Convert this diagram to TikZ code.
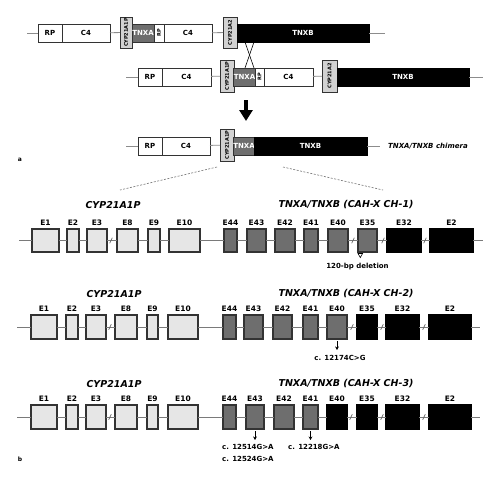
\documentclass[tikz,border=0pt]{standalone}
\usepackage{fontspec}
\setmainfont{DejaVu Sans}
\usetikzlibrary{arrows.meta,calc}
\definecolor{lgray}{HTML}{E6E6E6}
\definecolor{cgray}{HTML}{D2D2D2}
\definecolor{dgray}{HTML}{6E6E6E}
\definecolor{bord}{HTML}{333333}
\definecolor{lin}{HTML}{7A7A7A}
\newcommand{\gbox}[7]{\node[#6, minimum width={#3-#2}, minimum height={#5-#4}] (#1) at ({(#2+#3)/2},{(#4+#5)/2}) {#7};}
\newcommand{\exon}[5]{%
  \node[#4, minimum width={#3-#2}, minimum height={\yb-\yt}] (#1) at ({(#2+#3)/2},{(\yt+\yb)/2}) {};
  \node[lab] (#1l) at ({(#2+#3)/2},{\yt-6.5}) {#5};}
\newcommand{\slmark}[1]{\draw[slashst] ({#1-1.3},{(\yt+\yb)/2+2.8}) -- ({#1+1.3},{(\yt+\yb)/2-2.8});}
\begin{document}
\begin{tikzpicture}[x=1pt,y=-1pt,
  box/.style={draw=bord, line width=0.7pt, inner sep=0pt, outer sep=0pt, font=\bfseries\fontsize{7}{8}\selectfont},
  wbox/.style={box, fill=white},
  cypb/.style={box, fill=cgray, font=\bfseries\fontsize{5}{6}\selectfont},
  rpb/.style={box, fill=white, font=\bfseries\fontsize{5}{6}\selectfont},
  tnxa/.style={box, fill=dgray, text=white},
  tnxb/.style={box, fill=black, draw=black, text=white},
  exl/.style={draw=bord, line width=1.1pt, fill=lgray, inner sep=0pt, outer sep=0pt},
  exd/.style={exl, fill=dgray},
  exk/.style={exl, fill=black, draw=black},
  gline/.style={draw=lin, line width=0.8pt},
  tline/.style={draw=black!45, line width=0.8pt},
  slashst/.style={draw=black!60, line width=0.7pt},
  lab/.style={inner sep=0pt, font=\bfseries\fontsize{7.5}{9}\selectfont},
  ttl/.style={inner sep=0pt, font=\bfseries\itshape\fontsize{9.5}{11}\selectfont},
  mut/.style={inner sep=0pt, font=\bfseries\fontsize{7}{8.5}\selectfont},
  mutarr/.style={draw=black, line width=0.8pt, -{Stealth[length=3.5pt,width=3.8pt]}},
  dsh/.style={draw=black!55, line width=0.6pt, dash pattern=on 2pt off 1.5pt},
  panel/.style={inner sep=0pt, font=\bfseries\fontsize{6}{7}\selectfont}
]
\useasboundingbox (0,0) rectangle (496,479);
\fill[white] (0,0) rectangle (496,479);

% ---------- panel a, row 1
\coordinate (a1s) at (27,33);
\coordinate (a1e) at (385,33);
\gbox{a1rp}{38}{62}{24}{42}{wbox}{RP}
\gbox{a1c4}{62}{110}{24}{42}{wbox}{C4}
\gbox{a1cyp}{120}{132}{17}{48}{cypb}{\rotatebox{90}{CYP21A1P}}
\gbox{a1tnxa}{132}{154}{24}{42}{tnxa}{TNXA}
\gbox{a1rp2}{154}{164}{24}{42}{rpb}{\rotatebox{90}{RP}}
\gbox{a1c4b}{164}{212}{24}{42}{wbox}{C4}
\gbox{a1cyp2}{223}{237}{17}{48}{cypb}{\rotatebox{90}{CYP21A2}}
\gbox{a1tnxb}{237}{369}{24}{42}{tnxb}{TNXB}
\draw[tline] (a1s) -- (a1rp);
\draw[tline] (a1c4) -- (a1cyp);
\draw[tline] (a1c4b) -- (a1cyp2);
\draw[tline] (a1tnxb) -- (a1e);

% ---------- panel a, row 2
\coordinate (a2s) at (126,77);
\coordinate (a2e) at (483,77);
\gbox{a2rp}{138}{162}{68}{86}{wbox}{RP}
\gbox{a2c4}{162}{211}{68}{86}{wbox}{C4}
\gbox{a2cyp}{220}{234}{60}{92}{cypb}{\rotatebox{90}{CYP21A1P}}
\gbox{a2tnxa}{234}{255}{68}{86}{tnxa}{TNXA}
\gbox{a2rp2}{255}{264}{68}{86}{rpb}{\rotatebox{90}{RP}}
\gbox{a2c4b}{264}{313}{68}{86}{wbox}{C4}
\gbox{a2cyp2}{322}{337}{60}{92}{cypb}{\rotatebox{90}{CYP21A2}}
\gbox{a2tnxb}{337}{469}{68}{86}{tnxb}{TNXB}
\draw[tline] (a2s) -- (a2rp);
\draw[tline] (a2c4) -- (a2cyp);
\draw[tline] (a2c4b) -- (a2cyp2);
\draw[tline] (a2tnxb) -- (a2e);

% crossover
\draw[black, line width=0.6pt] ($(a2tnxa.north |- a1tnxb.south)+(0.5,0)$) -- ($(a2tnxa.north)+(9.5,0)$);
\draw[black, line width=0.6pt] ($(a2tnxa.north |- a1tnxb.south)+(9.5,0)$) -- ($(a2tnxa.north)+(0.5,0)$);

% ---------- panel a, row 3
\coordinate (a3s) at (126,146);
\coordinate (a3e) at (380,146);
\gbox{a3rp}{138}{162}{137}{155}{wbox}{RP}
\gbox{a3c4}{162}{210}{137}{155}{wbox}{C4}
\gbox{a3cyp}{220}{234}{129}{161}{cypb}{\rotatebox{90}{CYP21A1P}}
\gbox{a3tnxa}{234}{254}{137}{155}{tnxa}{TNXA}
\gbox{a3tnxb}{254}{367}{137}{155}{tnxb}{TNXB}
\draw[tline] (a3s) -- (a3rp);
\draw[tline] (a3c4) -- (a3cyp);
\draw[tline] (a3tnxb) -- (a3e);
\node[inner sep=0pt, anchor=west, font=\bfseries\itshape\fontsize{7}{8}\selectfont] (chim) at (388,146) {TNXA/TNXB chimera};

% big arrow
\draw[black, line width=4pt, -{Triangle[width=13pt,length=11pt]}] ($(a2tnxa.south)+(1.5,14)$) -- ($(a3tnxa.north)+(2,-16)$);

\node[panel] (pa) at (20,160) {a};

% dashed zoom lines
\coordinate (d1) at (120,190);
\coordinate (d2) at (383,190);
\draw[dsh] ($(a3cyp.south west)+(-3,6)$) -- (d1);
\draw[dsh] ($(a3tnxb.south west)+(29,12)$) -- (d2);

% ---------- panel b, CH-1
\def\yt{229}\def\yb{252}
\node[ttl] (t1a) at (113,205) {CYP21A1P};
\node[ttl] (t1b) at (346,205) {TNXA/TNXB (CAH-X CH-1)};
\coordinate (r1s) at (19,240.5);
\coordinate (r1t) at (483,240.5);
\exon{r1e1}{32}{59}{exl}{E1}
\exon{r1e2}{67}{79}{exl}{E2}
\exon{r1e3}{87}{107}{exl}{E3}
\exon{r1e8}{117}{138}{exl}{E8}
\exon{r1e9}{148}{160}{exl}{E9}
\exon{r1e10}{169}{200}{exl}{E10}
\exon{r1e44}{224}{237}{exd}{E44}
\exon{r1e43}{247}{266}{exd}{E43}
\exon{r1e42}{275}{295}{exd}{E42}
\exon{r1e41}{304}{318}{exd}{E41}
\exon{r1e40}{328}{348}{exd}{E40}
\exon{r1e35}{358}{377}{exd}{E35}
\exon{r1e32}{387}{421}{exk}{E32}
\exon{r1ex2}{430}{473}{exk}{E2}
\draw[gline] (r1s) -- (r1e1) -- (r1e2) -- (r1e3) -- (r1e8) -- (r1e9) -- (r1e10) -- (r1e44) -- (r1e43) -- (r1e42) -- (r1e41) -- (r1e40) -- (r1e35) -- (r1e32) -- (r1ex2) -- (r1t);
\slmark{111}\slmark{353}\slmark{383}\slmark{425}
\draw[black, line width=0.6pt] ($(r1e35.south west)+(0,1.5)$) -- ($(r1e35.south west)+(2.3,5.5)$) -- ($(r1e35.south west)+(4.6,1.5)$) -- cycle;
\node[mut] (del) at (357.5,267) {120-bp deletion};

% ---------- panel b, CH-2
\def\yt{315}\def\yb{339}
\node[ttl] (t2a) at (114,294) {CYP21A1P};
\node[ttl] (t2b) at (346,294) {TNXA/TNXB (CAH-X CH-2)};
\coordinate (r2s) at (17,327);
\coordinate (r2t) at (480,327);
\exon{r2e1}{31}{57}{exl}{E1}
\exon{r2e2}{66}{78}{exl}{E2}
\exon{r2e3}{86}{106}{exl}{E3}
\exon{r2e8}{115}{137}{exl}{E8}
\exon{r2e9}{147}{158}{exl}{E9}
\exon{r2e10}{168}{198}{exl}{E10}
\exon{r2e44}{223}{236}{exd}{E44}
\exon{r2e43}{244}{263}{exd}{E43}
\exon{r2e42}{273}{292}{exd}{E42}
\exon{r2e41}{303}{318}{exd}{E41}
\exon{r2e40}{327}{347}{exd}{E40}
\exon{r2e35}{357}{377}{exk}{E35}
\exon{r2e32}{386}{419}{exk}{E32}
\exon{r2ex2}{429}{471}{exk}{E2}
\draw[gline] (r2s) -- (r2e1) -- (r2e2) -- (r2e3) -- (r2e8) -- (r2e9) -- (r2e10) -- (r2e44) -- (r2e43) -- (r2e42) -- (r2e41) -- (r2e40) -- (r2e35) -- (r2e32) -- (r2ex2) -- (r2t);
\slmark{110}\slmark{352}\slmark{382}\slmark{424}
\node[mut] (m1) at (340,358) {c. 12174C>G};
\draw[mutarr] ($(r2e40.south)+(0,2)$) -- ($(r2e40.south)+(0,11)$);

% ---------- panel b, CH-3
\def\yt{405}\def\yb{429}
\node[ttl] (t3a) at (114,384) {CYP21A1P};
\node[ttl] (t3b) at (346,384) {TNXA/TNXB (CAH-X CH-3)};
\coordinate (r3s) at (17,417);
\coordinate (r3t) at (480,417);
\exon{r3e1}{31}{57}{exl}{E1}
\exon{r3e2}{66}{78}{exl}{E2}
\exon{r3e3}{86}{106}{exl}{E3}
\exon{r3e8}{115}{137}{exl}{E8}
\exon{r3e9}{147}{158}{exl}{E9}
\exon{r3e10}{168}{198}{exl}{E10}
\exon{r3e44}{223}{236}{exd}{E44}
\exon{r3e43}{246}{264}{exd}{E43}
\exon{r3e42}{274}{294}{exd}{E42}
\exon{r3e41}{303}{318}{exd}{E41}
\exon{r3e40}{327}{347}{exk}{E40}
\exon{r3e35}{357}{377}{exk}{E35}
\exon{r3e32}{386}{419}{exk}{E32}
\exon{r3ex2}{429}{471}{exk}{E2}
\draw[gline] (r3s) -- (r3e1) -- (r3e2) -- (r3e3) -- (r3e8) -- (r3e9) -- (r3e10) -- (r3e44) -- (r3e43) -- (r3e42) -- (r3e41) -- (r3e40) -- (r3e35) -- (r3e32) -- (r3ex2) -- (r3t);
\slmark{351}\slmark{382}\slmark{424}
\slmark{110}
\node[mut, anchor=west] (m2) at (222,447) {c. 12514G>A};
\node[mut, anchor=west] (m3) at (222,459) {c. 12524G>A};
\node[mut, anchor=west] (m4) at (288,447) {c. 12218G>A};
\draw[mutarr] ($(r3e43.south)+(0,2)$) -- ($(r3e43.south)+(0,11)$);
\draw[mutarr] ($(r3e41.south)+(0,2)$) -- ($(r3e41.south)+(0,11)$);

\node[panel] (pb) at (20,459) {b};
\end{tikzpicture}
\end{document}
